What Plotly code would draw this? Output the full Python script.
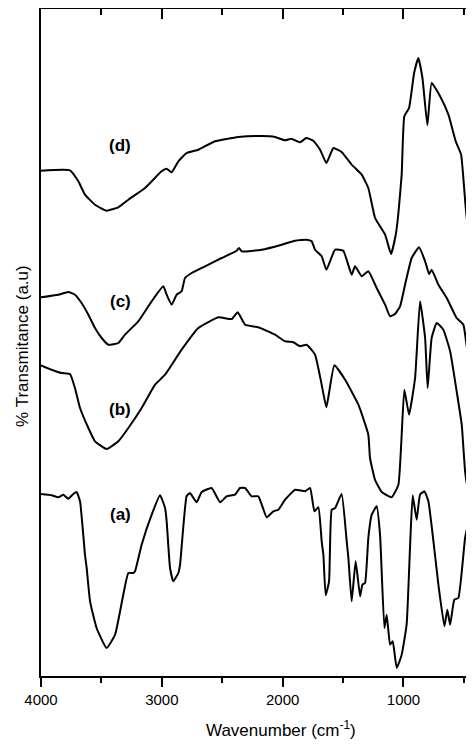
import plotly.graph_objects as go

# Wavenumbers (cm-1) and transmittance (arbitrary units, offset stacked)
wn_a = [4000, 3912, 3857, 3815, 3774, 3733, 3705, 3677, 3636, 3622, 3594, 3540, 3457, 3387, 3319, 3277,
        3236, 3222, 3167, 3084, 3015, 2973, 2960, 2932, 2905, 2863, 2849, 2795, 2767, 2712, 2670, 2588,
        2518, 2464, 2394, 2353, 2311, 2257, 2201, 2132, 2077, 2036, 1980, 1897, 1815, 1773, 1737, 1704,
        1677, 1663, 1644, 1616, 1594, 1566, 1512, 1470, 1456, 1429, 1396, 1359, 1340, 1318, 1291, 1263,
        1222, 1194, 1158, 1139, 1111, 1089, 1056, 1015, 974, 945, 924, 891, 863, 827, 794, 752, 711, 661,
        637, 614, 579, 546, 490, 463, 435, 417, 394, 380]
t_a = [182, 180.7, 178.7, 181.3, 177.3, 182, 184, 174.7, 121.3, 108, 74.7, 48, 28, 41.3, 81.3, 103,
       103, 104.7, 131.3, 161.3, 180.7, 168, 154.7, 108, 94.7, 103, 111.3, 179.7, 183, 173.7, 184, 188,
       173.7, 179.7, 181.3, 188, 188, 179.7, 179.7, 158.7, 164.7, 166.3, 176.3, 186.3, 184.7, 188, 164.7, 168.7,
       134.7, 121.3, 80.7, 94.7, 166.3, 168, 182, 134.7, 118, 74.7, 114.7, 79.7, 91.3, 93, 138, 161.3,
       169.7, 141.3, 48, 61.3, 31.3, 34.7, 8, 21.3, 51.3, 131.3, 180.7, 156.3, 181.3, 184.7, 174.7, 134.7, 91.3, 49.7,
       66.3, 51.3, 76.3, 78, 138, 151.3, 146.3, 185, 203, 175]

wn_b = [4000, 3912, 3830, 3760, 3719, 3677, 3608, 3553, 3457, 3360, 3277, 3167, 3056, 2973, 2836, 2698,
        2532, 2422, 2372, 2311, 2201, 2063, 1980, 1911, 1856, 1801, 1732, 1677, 1638, 1572, 1483, 1373,
        1291, 1277, 1235, 1180, 1098, 1042, 993, 954, 904, 863, 821, 800, 767, 725, 670, 614, 560, 518,
        490, 463, 421, 380]
t_b = [310.7, 306.3, 303, 302, 288, 268, 248, 234.7, 227, 234.7, 248, 268, 291.3, 301.3, 326.3, 348,
       358.7, 357, 363.7, 351.3, 348.7, 341.3, 334.7, 333.7, 329.7, 331.3, 321.3, 291.3, 268.7, 310.7, 296.3, 271.3,
       241.3, 218, 196, 184, 178.7, 191.3, 286.3, 261.3, 298, 374.7, 338, 288, 338, 353, 346.3, 324.7, 284.7, 251.3,
       204.7, 184.7, 205, 234.7]

wn_c = [4000, 3857, 3774, 3719, 3664, 3608, 3553, 3498, 3443, 3360, 3305, 3195, 3084, 2988, 2960, 2919,
        2877, 2836, 2808, 2753, 2642, 2505, 2381, 2361, 2339, 2174, 2008, 1897, 1801, 1760, 1732, 1677,
        1638, 1566, 1498, 1429, 1401, 1346, 1291, 1222, 1152, 1111, 1070, 1028, 987, 932, 871, 821, 788,
        767, 711, 642, 560, 504, 463, 413, 394, 376]
t_c = [378.7, 381.3, 384, 381.3, 373, 361.3, 348, 338, 331.3, 333, 341.3, 354.7, 374.7, 389.7, 381.3, 371.3,
       381.3, 384.7, 398, 403, 409.7, 418, 425.3, 428, 424.7, 426.3, 431.3, 435.3, 436.3, 434.7, 426.3, 419.7,
       406.3, 426.3, 425.3, 401.3, 409.7, 399.7, 404.7, 388, 371.3, 359.7, 362, 369.7, 391.3, 418, 428.7, 414.7, 402,
       406.3, 391.3, 378, 358, 351.3, 321.3, 318, 304.7, 300]

wn_d = [4000, 3760, 3691, 3636, 3553, 3457, 3360, 3277, 3139, 3002, 2960, 2919, 2863, 2795, 2698, 2560,
        2367, 2176, 2063, 1980, 1928, 1856, 1804, 1746, 1690, 1638, 1580, 1512, 1429, 1346, 1291, 1235,
        1152, 1103, 1063, 1042, 1015, 993, 954, 912, 877, 843, 802, 767, 697, 628, 568, 523, 469, 421, 380]
t_d = [505.3, 505.7, 494.7, 481.3, 471.3, 465.3, 468.7, 476.3, 488, 504.7, 507.3, 503.7, 514.7, 523, 526.3, 534.7,
       539, 540, 539, 535.7, 537.3, 533.7, 538, 535.3, 526.3, 513, 528, 524, 511.3, 501.3, 488, 458,
       441.3, 422, 442, 463, 501.3, 559.7, 568, 603, 618, 598, 550.7, 593, 579.7, 561.3, 534.7, 521.3, 448.7, 494.7, 564.7]

labels = ["(a)", "(b)", "(c)", "(d)"]
label_y = [162, 267, 375, 531]
label_x = 3346

FONT = "Arial, 'Liberation Sans', sans-serif"
fig = go.Figure()
for wn, t in [(wn_a, t_a), (wn_b, t_b), (wn_c, t_c), (wn_d, t_d)]:
    fig.add_trace(go.Scatter(x=wn, y=t, mode="lines",
                             line=dict(color="black", width=2, shape="spline", smoothing=0.4),
                             showlegend=False, hoverinfo="skip"))
fig.add_trace(go.Scatter(x=[None], y=[None], xaxis="x2", mode="lines", showlegend=False, hoverinfo="skip"))

for lab, yy in zip(labels, label_y):
    fig.add_annotation(x=label_x, y=yy, text="<b>%s</b>" % lab, showarrow=False,
                       font=dict(family=FONT, size=17, color="black"))

fig.add_annotation(xref="paper", yref="paper", x=0.548, y=-0.0795, text="Wavenumber (cm<sup>-1</sup>)",
                   showarrow=False, font=dict(family=FONT, size=17, color="black"), yanchor="middle")
fig.add_annotation(xref="paper", yref="paper", x=-0.041, y=0.495, text="% Transmitance (a.u)",
                   textangle=-90, showarrow=False, font=dict(family=FONT, size=17, color="black"),
                   xanchor="center", yanchor="middle")

rng = [4000, 375]
fig.update_layout(
    width=474, height=744, margin=dict(l=33, r=3, t=1, b=76, autoexpand=False),
    paper_bgcolor="white", plot_bgcolor="white",
    xaxis=dict(range=rng, tickvals=[4000, 3000, 2000, 1000], ticktext=["4000", "3000", "2000", "1000"],
               automargin=False,
               ticks="outside", ticklen=9, tickwidth=1.5, tickcolor="black",
               minor=dict(tickvals=[3500, 2500, 1500, 500], ticks="outside", ticklen=5, tickwidth=1.5, tickcolor="black"),
               showline=True, linecolor="black", linewidth=2, mirror=True, showgrid=False, zeroline=False,
               tickfont=dict(family=FONT, size=15, color="black")),
    xaxis2=dict(range=rng, overlaying="x", side="top", tickvals=[4000, 3000, 2000, 1000], automargin=False,
                ticks="inside", ticklen=10, tickwidth=1.5, tickcolor="black", showticklabels=False,
                minor=dict(tickvals=[3500, 2500, 1500, 500], ticks="inside", ticklen=6, tickwidth=1.5, tickcolor="black"),
                showline=False, showgrid=False, zeroline=False),
    yaxis=dict(range=[0, 667], showticklabels=False, ticks="", showline=True, linecolor="black",
               automargin=False, linewidth=2, mirror=True, showgrid=False, zeroline=False),
)
fig.write_html("out.html")
